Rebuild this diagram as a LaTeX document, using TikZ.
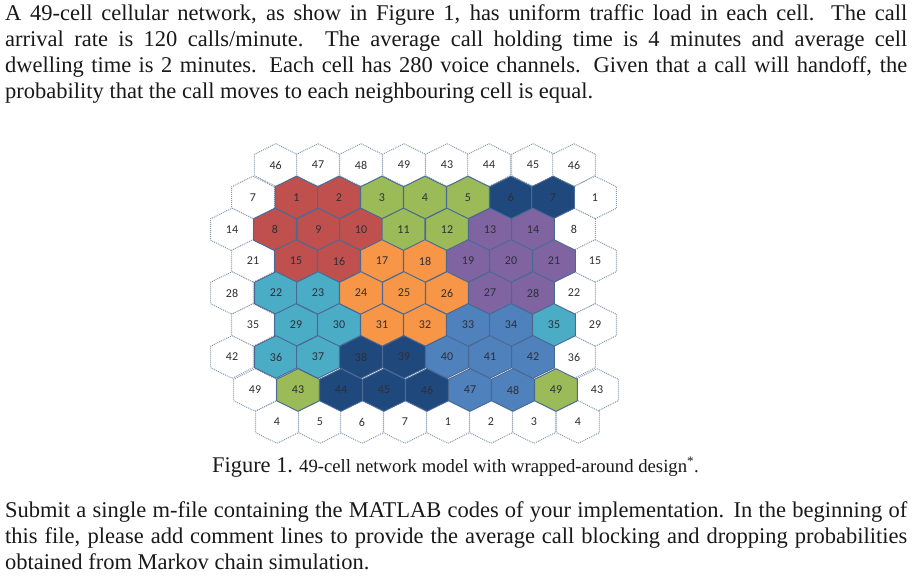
\documentclass[tikz,border=0pt]{standalone}
\usepackage{fontspec}
\setmainfont{Liberation Serif}
\newfontfamily\cellfont{Carlito}
\definecolor{cred}{HTML}{C0504D}
\definecolor{cgreen}{HTML}{9BBB59}
\definecolor{cpurple}{HTML}{8064A2}
\definecolor{corange}{HTML}{F79646}
\definecolor{cteal}{HTML}{4BACC6}
\definecolor{cblue}{HTML}{4F81BD}
\definecolor{cnavy}{HTML}{1F497D}
\definecolor{cedge}{HTML}{4A6A94}
\definecolor{wedge}{HTML}{8A9AAE}
\definecolor{celltext}{HTML}{2E2E38}
\tikzset{
  body/.style={anchor=base west,inner sep=0pt,font=\fontsize{22.5}{26}\selectfont,text=black!90},
  capbig/.style={anchor=base west,inner sep=0pt,font=\fontsize{22.4}{26}\selectfont,text=black!90},
  capsmall/.style={anchor=base west,inner sep=0pt,font=\fontsize{18.7}{22}\selectfont,text=black!90},
  celllabel/.style={inner sep=0pt,font=\cellfont\fontsize{12}{14}\selectfont,text=celltext},
  whitecell/.style={draw=wedge,line width=1pt,densely dotted,fill=white},
  colcell/.style={draw=cedge,line width=0.9pt,line join=round,fill=#1}
}
\newcommand{\hexshape}{(0,-21.3) -- (21.4,-10.7) -- (21.4,10.7) -- (0,21.3) -- (-21.4,10.7) -- (-21.4,-10.7) -- cycle}
\begin{document}
\begin{tikzpicture}[x=1pt,y=-1pt]
\useasboundingbox (0,0) rectangle (913,581);
\fill[white] (0,0) rectangle (913,581);
% white wrap-around cells
\foreach \px/\py/\lab [count=\i] in {
  275.7/165/46,318/165/47,361/165/48,404/165/49,447/165/43,489/165/44,533/165/45,574/165/46,
  253/197.5/7,595/197.5/1,
  232/229.5/14,574/229.5/8,
  253/261/21,595/261/15,
  232/293/28,574/293/22,
  253/325/35,595/325/29,
  232/357/42,574/357/36,
  255/390/49,597/390/43,
  277/422/4,320/422/5,362/422/6,405/422/7,448/422/1,491/422/2,534/422/3,578/422/4}
{
  \path[whitecell,shift={(\px,\py)}] \hexshape;
  \node[celllabel] (w\i) at (\px,\py) {\lab};
}
% coloured cells
\foreach \px/\py/\lab/\col [count=\i] in {
  296.5/197.5/1/cred,339/197.5/2/cred,382/197.5/3/cgreen,425/197.5/4/cgreen,468/197.5/5/cgreen,511/197.5/6/cnavy,553/197.5/7/cnavy,
  275/229.5/8/cred,318.5/229.5/9/cred,361/229.5/10/cred,403.5/229.5/11/cgreen,447/229.5/12/cgreen,490/229.5/13/cpurple,533/229.5/14/cpurple,
  296/261/15/cred,339/261/16/cred,382/261/17/corange,425/261/18/corange,468/261/19/cpurple,511/261/20/cpurple,554/261/21/cpurple,
  276/293/22/cteal,318/293/23/cteal,361/293/24/corange,404/293/25/corange,447/293/26/corange,490/293/27/cpurple,533/293/28/cpurple,
  296/325/29/cteal,339/325/30/cteal,382/325/31/corange,425/325/32/corange,468/325/33/cblue,511/325/34/cblue,554/325/35/cteal,
  276/357/36/cteal,318/357/37/cteal,361/357/38/cnavy,404/357/39/cnavy,447/357/40/cblue,490/357/41/cblue,533/357/42/cblue,
  298/390/43/cgreen,341/390/44/cnavy,384/390/45/cnavy,427/390/46/cnavy,470/390/47/cblue,513/390/48/cblue,556/390/49/cgreen}
{
  \path[colcell=\col,shift={(\px,\py)}] \hexshape;
  \node[celllabel] (c\i) at (\px,\py) {\lab};
}
% text
\node[body] (t1) at (5,20.7) {\makebox[902pt][s]{A 49-cell cellular network, as show in Figure 1, has uniform traffic load in each cell.  The call}};
\node[body] (t2) at (5,46.7) {\makebox[902pt][s]{arrival rate is 120 calls/minute.  The average call holding time is 4 minutes and average cell}};
\node[body] (t3) at (5,72.5) {\makebox[902pt][s]{dwelling time is 2 minutes.  Each cell has 280 voice channels.  Given that a call will handoff, the}};
\node[body] (t4) at (5,98.5) {\makebox[588pt][s]{probability that the call moves to each neighbouring cell is equal.}};
\node[capbig] (f1) at (212,472) {Figure 1.};
\node[capsmall] (f2) at (299,472) {49-cell network model with wrapped-around design\textsuperscript{*}.};
\node[body] (b1) at (5,517.5) {\makebox[902pt][s]{Submit a single m-file containing the MATLAB codes of your implementation.  In the beginning of}};
\node[body] (b2) at (5,543.3) {\makebox[902pt][s]{this file, please add comment lines to provide the average call blocking and dropping probabilities}};
\node[body] (b3) at (5,569) {obtained from Markov chain simulation.};
\end{tikzpicture}
\end{document}
